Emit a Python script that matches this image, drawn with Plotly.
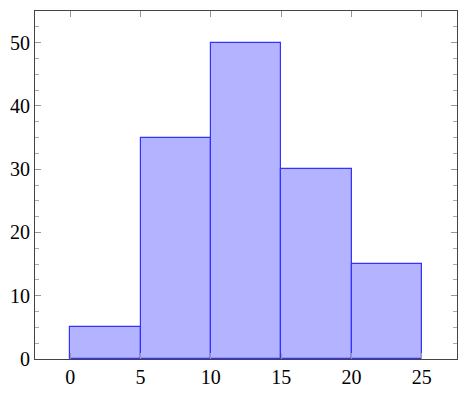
import plotly.graph_objects as go

bin_edges = [0, 5, 10, 15, 20, 25]
counts = [5, 35, 50, 30, 15]
x_ticks = [0, 5, 10, 15, 20, 25]
y_ticks = [0, 10, 20, 30, 40, 50]

centers = [(a + b) / 2 for a, b in zip(bin_edges[:-1], bin_edges[1:])]
widths = [b - a for a, b in zip(bin_edges[:-1], bin_edges[1:])]

fig = go.Figure()
fig.add_trace(go.Bar(
    x=centers, y=counts, width=widths,
    marker=dict(color="#b3b3ff", line=dict(color="#3333ff", width=1.2)),
))

font = dict(family="Liberation Serif, DejaVu Serif, serif", size=20, color="#000")
axis_common = dict(
    showgrid=False, zeroline=False, showline=True, linecolor="#444", linewidth=1.2,
    mirror="ticks", ticks="inside", ticklen=6, tickcolor="#999", tickwidth=1,
    tickfont=font, layer="above traces",
)
fig.update_xaxes(range=[-2.5, 27.5], tickvals=x_ticks, **axis_common)
fig.update_yaxes(range=[0, 55], tickvals=y_ticks,
                 minor=dict(ticks="inside", dtick=2.5, ticklen=4, tickcolor="#aaa", tick0=0),
                 **axis_common)
fig.update_layout(
    width=474, height=398, margin=dict(l=35, r=17, t=10, b=38),
    plot_bgcolor="white", paper_bgcolor="white", showlegend=False, bargap=0,
)
fig.write_html("out.html")
